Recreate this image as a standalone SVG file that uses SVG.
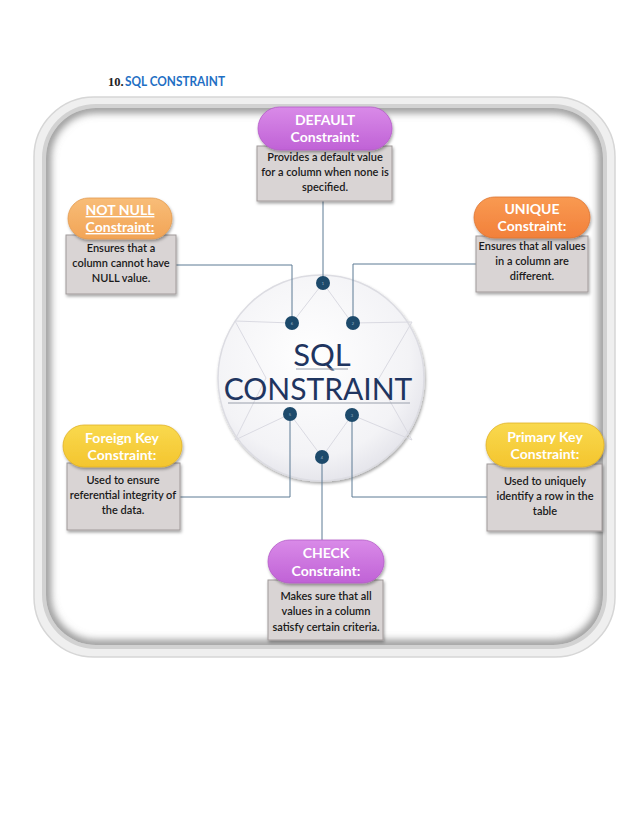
<svg xmlns="http://www.w3.org/2000/svg" width="638" height="826" viewBox="0 0 638 826">
<defs>
<style>
.pill{font-family:Lato,"Open Sans",sans-serif;font-size:14px;font-weight:bold;fill:#fff;text-anchor:middle}
.body{font-family:Lato,"Open Sans",sans-serif;font-size:11px;font-weight:600;fill:#1a1a1a;text-anchor:middle}
.box{fill:#d9d4d4;stroke:#a09a9a;stroke-width:1}
.conn{fill:none;stroke:#5c7a94;stroke-width:1}
.badge{fill:#1d4a6b}
.bn{font-family:Lato,sans-serif;font-size:4px;fill:#9fb6c8;text-anchor:middle}
</style>
<linearGradient id="gPurple" x1="0" y1="0" x2="0" y2="1"><stop offset="0" stop-color="#d98ae8"/><stop offset="1" stop-color="#c062d6"/></linearGradient>
<linearGradient id="gLOrange" x1="0" y1="0" x2="0" y2="1"><stop offset="0" stop-color="#f8bd78"/><stop offset="1" stop-color="#f2a456"/></linearGradient>
<linearGradient id="gOrange" x1="0" y1="0" x2="0" y2="1"><stop offset="0" stop-color="#f99a52"/><stop offset="1" stop-color="#f2803a"/></linearGradient>
<linearGradient id="gYellow" x1="0" y1="0" x2="0" y2="1"><stop offset="0" stop-color="#f9d94e"/><stop offset="1" stop-color="#f4c52e"/></linearGradient>
<radialGradient id="gCircle" cx="0.45" cy="0.4" r="0.6"><stop offset="0" stop-color="#ffffff"/><stop offset="0.8" stop-color="#f3f3f6"/><stop offset="1" stop-color="#e6e6ec"/></radialGradient>
<filter id="sh" x="-20%" y="-20%" width="140%" height="140%"><feDropShadow dx="1" dy="2" stdDeviation="1.5" flood-color="#000" flood-opacity="0.35"/></filter>
<filter id="blur4"><feGaussianBlur stdDeviation="4"/></filter>
<clipPath id="inner"><rect x="46" y="108" width="557" height="537" rx="50"/></clipPath>
</defs>
<rect width="638" height="826" fill="#fff"/>

<g id="title">
<text x="108" y="86" font-family="Liberation Serif,serif" font-weight="bold" font-size="12.5" fill="#222">10.</text>
<text x="125" y="86" font-family="Lato,'Open Sans',sans-serif" font-weight="bold" font-size="12.5" fill="#1f6fc4" textLength="100" lengthAdjust="spacingAndGlyphs">SQL CONSTRAINT</text>
</g>

<g id="frame">
<rect x="34" y="97" width="581" height="560" rx="60" fill="#efefef" stroke="#d6d6d6" stroke-width="1.5"/>
<rect x="42" y="104" width="565" height="545" rx="54" fill="#d2d2d2"/>
<rect x="46" y="108" width="557" height="537" rx="50" fill="#fff"/>
<g clip-path="url(#inner)">
<rect x="46" y="108" width="557" height="537" rx="50" fill="none" stroke="#7d7d7d" stroke-width="8" filter="url(#blur4)"/>
</g>
</g>

<g id="center">
<circle cx="321" cy="378" r="103" fill="url(#gCircle)" stroke="#dcdce2" stroke-width="1.5" filter="url(#sh)"/>
<polygon points="323,283 352,323 412,322 378,380 412,440 352,415 322,457 290,414 235,440 266,378 235,321 292,323" fill="none" stroke="#dadae2" stroke-width="1"/>
<text x="322" y="366" font-family="Lato,'Open Sans',sans-serif" font-size="31" fill="#1f3560" text-anchor="middle">SQL</text>
<line x1="296" y1="369" x2="348" y2="369" stroke="#9aa0ac" stroke-width="1"/>
<text x="318" y="400" font-family="Lato,'Open Sans',sans-serif" font-size="30" fill="#1f3560" text-anchor="middle">CONSTRAINT</text>
<line x1="228" y1="403" x2="410" y2="403" stroke="#9aa0ac" stroke-width="1"/>
</g>

<g id="connectors">
<path class="conn" d="M323,200 V277"/>
<path class="conn" d="M176,265 H292 V316"/>
<path class="conn" d="M476,264 H353 V316"/>
<path class="conn" d="M180,497 H290 V421"/>
<path class="conn" d="M487,497 H352 V422"/>
<path class="conn" d="M322,464 V541"/>
</g>

<g id="badges">
<circle class="badge" cx="323" cy="283" r="7"/><text class="bn" x="323" y="284.5">1</text>
<circle class="badge" cx="353" cy="323" r="7"/><text class="bn" x="353" y="324.5">2</text>
<circle class="badge" cx="352" cy="415" r="7"/><text class="bn" x="352" y="416.5">3</text>
<circle class="badge" cx="322" cy="457" r="7"/><text class="bn" x="322" y="458.5">4</text>
<circle class="badge" cx="290" cy="414" r="7"/><text class="bn" x="290" y="415.5">5</text>
<circle class="badge" cx="292" cy="323" r="7"/><text class="bn" x="292" y="324.5">6</text>
</g>

<g id="default">
<rect class="box" x="257" y="146" width="135" height="55" filter="url(#sh)"/>
<rect x="258" y="107" width="134" height="43" rx="21.5" fill="url(#gPurple)" stroke="#b45cc8" stroke-width="0.8" filter="url(#sh)"/>
<text class="pill" x="325" y="125">DEFAULT</text>
<text class="pill" x="325" y="142">Constraint:</text>
<text class="body" x="325" y="161">Provides a default value</text>
<text class="body" x="325" y="176">for a column when none is</text>
<text class="body" x="325" y="191">specified.</text>
</g>

<g id="notnull">
<rect class="box" x="66" y="235" width="110" height="59" filter="url(#sh)"/>
<rect x="68" y="198" width="104" height="41" rx="20.5" fill="url(#gLOrange)" stroke="#e39a4e" stroke-width="0.8" filter="url(#sh)"/>
<text class="pill" x="120" y="215" text-decoration="underline">NOT NULL</text>
<text class="pill" x="120" y="232" text-decoration="underline">Constraint:</text>
<text class="body" x="121" y="252">Ensures that a</text>
<text class="body" x="121" y="267">column cannot have</text>
<text class="body" x="121" y="282">NULL value.</text>
</g>

<g id="unique">
<rect class="box" x="476" y="236" width="112" height="56" filter="url(#sh)"/>
<rect x="474" y="197" width="116" height="41" rx="20.5" fill="url(#gOrange)" stroke="#dd7430" stroke-width="0.8" filter="url(#sh)"/>
<text class="pill" x="532" y="214">UNIQUE</text>
<text class="pill" x="532" y="231">Constraint:</text>
<text class="body" x="532" y="250">Ensures that all values</text>
<text class="body" x="532" y="265">in a column are</text>
<text class="body" x="532" y="280">different.</text>
</g>

<g id="foreignkey">
<rect class="box" x="67" y="463" width="113" height="67" filter="url(#sh)"/>
<rect x="63" y="425" width="119" height="42" rx="21" fill="url(#gYellow)" stroke="#e2b324" stroke-width="0.8" filter="url(#sh)"/>
<text class="pill" x="122" y="443">Foreign Key</text>
<text class="pill" x="122" y="460">Constraint:</text>
<text class="body" x="123" y="484">Used to ensure</text>
<text class="body" x="123" y="499">referential integrity of</text>
<text class="body" x="123" y="514">the data.</text>
</g>

<g id="primarykey">
<rect class="box" x="487" y="464" width="115" height="67" filter="url(#sh)"/>
<rect x="486" y="423" width="118" height="44" rx="22" fill="url(#gYellow)" stroke="#e2b324" stroke-width="0.8" filter="url(#sh)"/>
<text class="pill" x="545" y="442">Primary Key</text>
<text class="pill" x="545" y="459">Constraint:</text>
<text class="body" x="545" y="485">Used to uniquely</text>
<text class="body" x="545" y="500">identify a row in the</text>
<text class="body" x="545" y="515">table</text>
</g>

<g id="check">
<rect class="box" x="268" y="580" width="115" height="60" filter="url(#sh)"/>
<rect x="268" y="540" width="116" height="43" rx="21.5" fill="url(#gPurple)" stroke="#b45cc8" stroke-width="0.8" filter="url(#sh)"/>
<text class="pill" x="326" y="558">CHECK</text>
<text class="pill" x="326" y="576">Constraint:</text>
<text class="body" x="326" y="600">Makes sure that all</text>
<text class="body" x="326" y="615">values in a column</text>
<text class="body" x="326" y="631">satisfy certain criteria.</text>
</g>
</svg>
